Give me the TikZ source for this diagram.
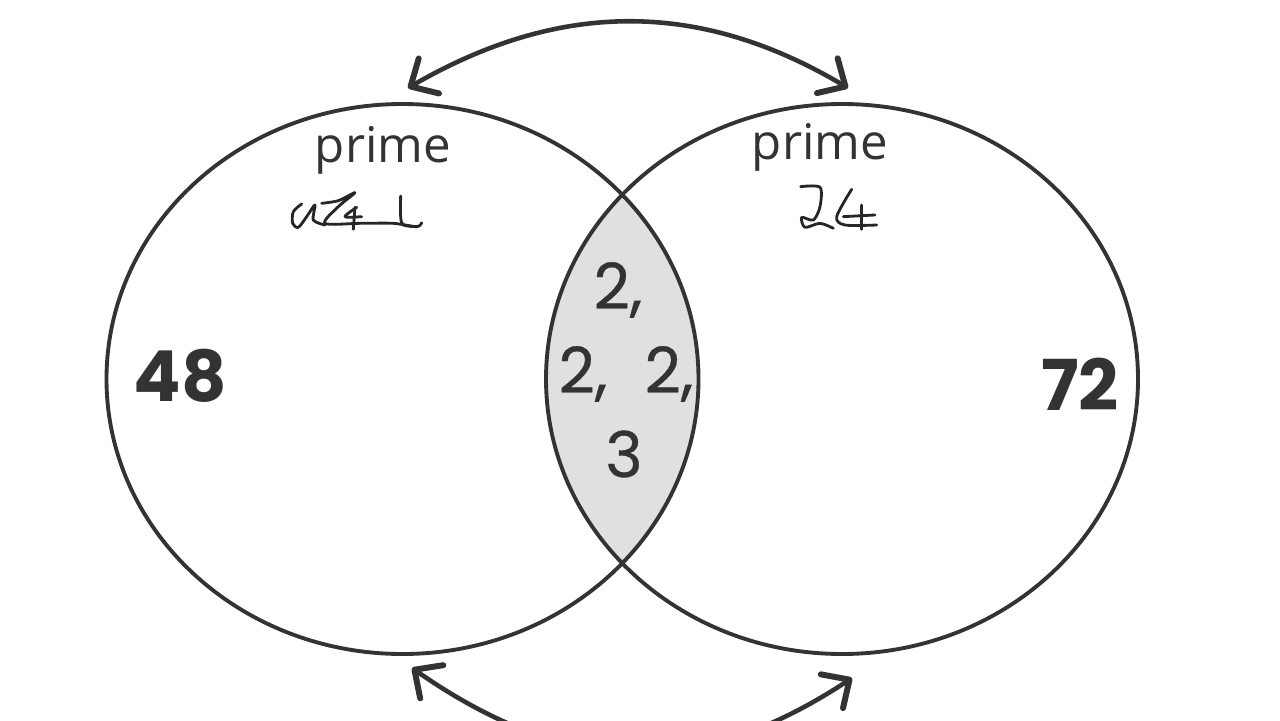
\documentclass[tikz,border=0pt]{standalone}
\usepackage{fontspec}
\setmainfont{Open Sans}
\newfontfamily\digitfont{Poppins}
\newfontfamily\memberfont[FakeBold=0.5]{Poppins}
\usetikzlibrary{arrows.meta,shapes.geometric}

\definecolor{ink}{HTML}{333333}
\definecolor{lens}{HTML}{E0E0E0}

\begin{document}
\begin{tikzpicture}[x=0.02cm,y=-0.02cm,
    >={Straight Barb[length=12pt,width=23pt,line width=3.4pt,round]},
    set/.style={ellipse,draw=ink,line width=2.2pt,minimum width=592*0.02cm,minimum height=550*0.02cm,inner sep=0pt},
    swap/.style={draw=ink,line width=2.6pt,line cap=round,line join=round,<->},
    label/.style={text=ink,font=\fontsize{28}{28}\selectfont,inner sep=0pt},
    member/.style={text=ink,font=\memberfont\fontsize{36}{36}\selectfont,inner sep=0pt},
    number/.style={text=ink,font=\digitfont\fontsize{40}{40}\selectfont\bfseries,inner sep=0pt},
    scribble/.style={draw=black!85,line width=1.6pt,line cap=round,line join=round,smooth}]
    \useasboundingbox (0,0) rectangle (1280,720);
    % shaded overlap goes under the two outlines
    \begin{scope}
        \clip (402.5,379) ellipse [x radius=296,y radius=275];
        \fill[lens] (842,379) ellipse [x radius=296,y radius=275];
    \end{scope}
    \node[set] (A) at (402.5,379) {};
    \node[set] (B) at (842,379) {};
    \node[label] (pa) at (383,150) {prime};
    \node[label] (pb) at (820,147) {prime};
    \node[number] (n48) at (180,376) {48};
    \node[number] (n72) at (1080,384) {72};
    \node[member] (m1) at (618,290) {2,};
    \node[member] (m2) at (583,374) {2,};
    \node[member] (m3) at (669,374) {2,};
    \node[member] (m4) at (624,454) {3};
    \coordinate (t1) at (408,88);
    \coordinate (t2) at (848,88);
    \coordinate (b1) at (412,668);
    \coordinate (b2) at (852,678);
    \draw[swap] (t1) .. controls (560,0) and (700,0) .. (t2);
    \draw[swap] (b1) .. controls (570,778) and (700,778) .. (b2);
    % crossed out handwriting, traced
    \begin{scope}[shift={(260,110)},x=0.02cm/3,y=-0.02cm/3]
        \draw[scribble] plot coordinates {(125,282) (100,305) (98,340) (115,352) (140,320) (165,285) (160,330) (195,345)};
        \draw[scribble] plot coordinates {(185,280) (235,272) (285,248) (235,290) (195,340) (300,340) (400,340) (470,350) (485,338)};
        \draw[scribble] plot coordinates {(290,292) (255,320) (305,320)};
        \draw[scribble] (285,292) -- (280,358);
        \draw[scribble] plot coordinates {(422,258) (422,320) (430,345) (470,350)};
    \end{scope}
    \begin{scope}[shift={(730,110)},x=0.02cm/3,y=-0.02cm/3]
        \draw[scribble] plot coordinates {(212,230) (270,232) (270,290) (250,330) (215,322) (225,352) (270,340) (310,355)};
        \draw[scribble] plot coordinates {(365,238) (320,320) (345,345) (440,345)};
        \draw[scribble] (395,285) -- (395,358);
        \draw[scribble] (340,320) -- (435,315);
    \end{scope}
\end{tikzpicture}
\end{document}
